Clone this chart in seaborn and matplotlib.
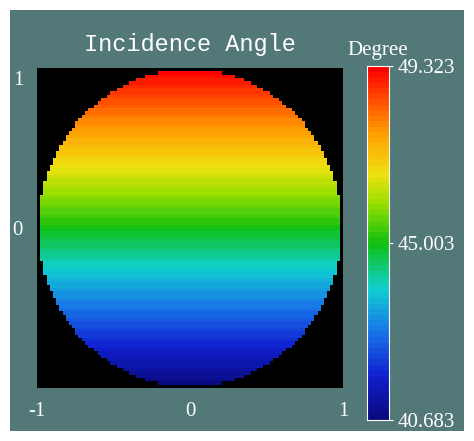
import numpy as np
import matplotlib
matplotlib.use("Agg")
import matplotlib.pyplot as plt
import seaborn as sns
from matplotlib.patches import Rectangle
from matplotlib.colors import LinearSegmentedColormap

angle_min = 40.683
angle_mid = 45.003
angle_max = 49.323
cbar_ticks = [angle_max, angle_mid, angle_min]
x_labels = ["-1", "0", "1"]
y_labels = ["0", "1"]
n_cells = 96

coords = np.linspace(-1, 1, n_cells)
X, Y = np.meshgrid(coords, coords[::-1])
field = angle_min + (Y + 1) / 2 * (angle_max - angle_min)
mask = X**2 + Y**2 > 1.0

cmap = LinearSegmentedColormap.from_list("rainbow_ref", [
    (0.0, "#0a0a80"), (0.12, "#1020d0"), (0.25, "#1878e8"), (0.37, "#10d0d0"),
    (0.5, "#10c010"), (0.62, "#a0e000"), (0.7, "#f0e010"), (0.82, "#ff9a00"),
    (1.0, "#ff0000")], N=64)

fig = plt.figure(figsize=(4.74, 4.41), dpi=100)
fig.patch.set_facecolor("white")
fig.patches.append(Rectangle((10/474, 10/441), 454/474, 421/441, transform=fig.transFigure,
                             facecolor="#527878", edgecolor="none", zorder=-1))
ax = fig.add_axes([37/474, 1-388/441, 306/474, 320/441])
cax = fig.add_axes([367/474, 1-420/441, 22/474, 354/441])
ax.set_facecolor("black")
sns.heatmap(field, mask=mask, cmap=cmap, vmin=angle_min, vmax=angle_max, ax=ax, cbar_ax=cax,
            xticklabels=False, yticklabels=False)
ax.set_xticks([0, n_cells/2, n_cells])
ax.set_xticklabels(x_labels)
ax.set_yticks([n_cells/2, 3])
ax.set_yticklabels(y_labels)
for s in ax.spines.values():
    s.set_visible(False)
ax.tick_params(length=0, labelsize=15, colors="white", pad=10)
for t in ax.get_xticklabels() + ax.get_yticklabels():
    t.set_fontfamily("Liberation Serif")
ax.set_title("Incidence Angle", fontsize=17, color="white", family="Liberation Mono", pad=12)
cax.set_yticks(cbar_ticks)
cax.set_yticklabels([f"{v:.3f}" for v in cbar_ticks])
cax.tick_params(length=3, labelsize=15, colors="white", width=0.8)
for t in cax.get_yticklabels():
    t.set_fontfamily("Liberation Serif")
cax.set_title("Degree", fontsize=15, color="white", family="Liberation Serif", pad=8)
for s in cax.spines.values():
    s.set_visible(True); s.set_color("white")
fig.savefig("out.png", dpi=100, facecolor=fig.get_facecolor())
